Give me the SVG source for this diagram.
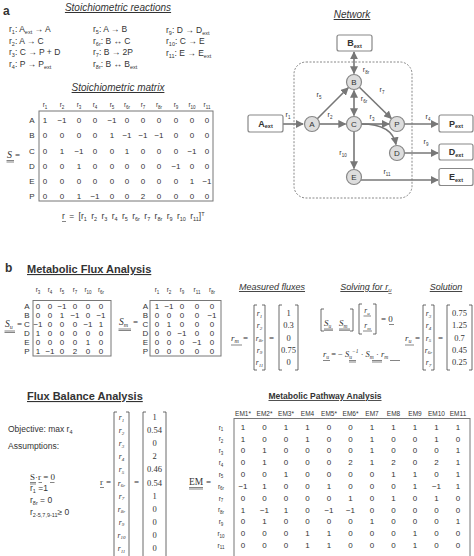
<svg xmlns="http://www.w3.org/2000/svg" width="474" height="556" viewBox="0 0 474 556">
<defs>
<style>
text{font-family:"Liberation Sans",Arial,sans-serif;fill:#333}
.s{font-size:8.5px}
.ttl{font-size:10px;font-style:italic;text-decoration:underline}
.ttl9{font-size:9px;font-style:italic;text-decoration:underline;text-anchor:middle}
.h{font-size:11px;font-weight:bold;text-decoration:underline}
.lt{font-size:12px;font-weight:bold}
.sb{font-size:5.5px}
.sb4{font-size:4.5px}
.m{font-size:8px;text-anchor:middle}
.mh{font-size:6.5px;text-anchor:middle}
.box{fill:none;stroke:#777;stroke-width:1}
.e{fill:none;stroke:#777;stroke-width:1.6}
.nd{fill:#ddd;stroke:#888;stroke-width:1.2}
.ext{fill:#fff;stroke:#888;stroke-width:1.2}
.nl{font-size:8px;text-anchor:middle}
.xl{font-size:9px;font-weight:bold;text-anchor:middle}
.el{font-size:7px;text-anchor:middle}
.sf{font-family:"Liberation Serif","Times New Roman",serif}
.it{font-style:italic}
.br{fill:none;stroke:#444;stroke-width:0.8}
.ul{stroke:#333;stroke-width:0.6}
.v{font-family:"Liberation Serif","Times New Roman",serif;font-size:8.5px;text-anchor:middle}
.vi{font-family:"Liberation Serif","Times New Roman",serif;font-style:italic;font-size:7.5px;text-anchor:middle}
</style>
<marker id="ah" viewBox="0 0 10 10" refX="9" refY="5" markerWidth="5" markerHeight="5" orient="auto-start-reverse"><path d="M0,0 L10,5 L0,10 z" fill="#777"/></marker>
</defs>
<rect width="474" height="556" fill="#fff"/>

<!-- ===== Part a: reactions ===== -->
<g id="reactions">
<text x="3" y="15" class="lt">a</text>
<text x="118" y="11" class="ttl" text-anchor="middle">Stoichiometric reactions</text>
<text x="9" y="32" class="s">r<tspan class="sb" dy="2">1</tspan><tspan dy="-2">: A</tspan><tspan class="sb" dy="2">ext</tspan><tspan dy="-2"> → A</tspan></text>
<text x="9" y="43.5" class="s">r<tspan class="sb" dy="2">2</tspan><tspan dy="-2">: A → C</tspan></text>
<text x="9" y="55" class="s">r<tspan class="sb" dy="2">3</tspan><tspan dy="-2">: C → P + D</tspan></text>
<text x="9" y="66.5" class="s">r<tspan class="sb" dy="2">4</tspan><tspan dy="-2">: P → P</tspan><tspan class="sb" dy="2">ext</tspan></text>
<text x="93" y="32" class="s">r<tspan class="sb" dy="2">5</tspan><tspan dy="-2">:  A → B</tspan></text>
<text x="93" y="43.5" class="s">r<tspan class="sb" dy="2">6r</tspan><tspan dy="-2">: B ↔ C</tspan></text>
<text x="93" y="55" class="s">r<tspan class="sb" dy="2">7</tspan><tspan dy="-2">:  B → 2P</tspan></text>
<text x="93" y="66.5" class="s">r<tspan class="sb" dy="2">8r</tspan><tspan dy="-2">: B ↔ B</tspan><tspan class="sb" dy="2">ext</tspan></text>
<text x="166" y="33" class="s">r<tspan class="sb" dy="2">9</tspan><tspan dy="-2">:  D → D</tspan><tspan class="sb" dy="2">ext</tspan></text>
<text x="166" y="44" class="s">r<tspan class="sb" dy="2">10</tspan><tspan dy="-2">: C → E</tspan></text>
<text x="166" y="55.5" class="s">r<tspan class="sb" dy="2">11</tspan><tspan dy="-2">: E → E</tspan><tspan class="sb" dy="2">ext</tspan></text>
</g>

<!-- ===== Part a: stoichiometric matrix ===== -->
<g id="stoich-matrix">
<text x="118" y="91" class="ttl" text-anchor="middle">Stoichiometric matrix</text>
<text class="mh"><tspan x="45" y="107">r</tspan><tspan class="sb4" dy="1.5">1</tspan><tspan x="62" y="107">r</tspan><tspan class="sb4" dy="1.5">2</tspan><tspan x="79" y="107">r</tspan><tspan class="sb4" dy="1.5">3</tspan><tspan x="95" y="107">r</tspan><tspan class="sb4" dy="1.5">4</tspan><tspan x="112" y="107">r</tspan><tspan class="sb4" dy="1.5">5</tspan><tspan x="127" y="107">r</tspan><tspan class="sb4" dy="1.5">6r</tspan><tspan x="143" y="107">r</tspan><tspan class="sb4" dy="1.5">7</tspan><tspan x="159" y="107">r</tspan><tspan class="sb4" dy="1.5">8r</tspan><tspan x="176" y="107">r</tspan><tspan class="sb4" dy="1.5">9</tspan><tspan x="192" y="107">r</tspan><tspan class="sb4" dy="1.5">10</tspan><tspan x="207" y="107">r</tspan><tspan class="sb4" dy="1.5">11</tspan></text>
<rect x="39" y="111" width="174" height="90" class="box"/>
<text class="m" x="32" y="123">A</text>
<text class="m" x="32" y="138">B</text>
<text class="m" x="32" y="153.5">C</text>
<text class="m" x="32" y="169">D</text>
<text class="m" x="32" y="184">E</text>
<text class="m" x="32" y="199">P</text>
<text class="m" y="123"><tspan x="45">1</tspan><tspan x="62">−1</tspan><tspan x="79">0</tspan><tspan x="95">0</tspan><tspan x="112">−1</tspan><tspan x="127">0</tspan><tspan x="143">0</tspan><tspan x="159">0</tspan><tspan x="176">0</tspan><tspan x="192">0</tspan><tspan x="207">0</tspan></text>
<text class="m" y="138"><tspan x="45">0</tspan><tspan x="62">0</tspan><tspan x="79">0</tspan><tspan x="95">0</tspan><tspan x="112">1</tspan><tspan x="127">−1</tspan><tspan x="143">−1</tspan><tspan x="159">−1</tspan><tspan x="176">0</tspan><tspan x="192">0</tspan><tspan x="207">0</tspan></text>
<text class="m" y="153.5"><tspan x="45">0</tspan><tspan x="62">1</tspan><tspan x="79">−1</tspan><tspan x="95">0</tspan><tspan x="112">0</tspan><tspan x="127">1</tspan><tspan x="143">0</tspan><tspan x="159">0</tspan><tspan x="176">0</tspan><tspan x="192">−1</tspan><tspan x="207">0</tspan></text>
<text class="m" y="169"><tspan x="45">0</tspan><tspan x="62">0</tspan><tspan x="79">1</tspan><tspan x="95">0</tspan><tspan x="112">0</tspan><tspan x="127">0</tspan><tspan x="143">0</tspan><tspan x="159">0</tspan><tspan x="176">−1</tspan><tspan x="192">0</tspan><tspan x="207">0</tspan></text>
<text class="m" y="184"><tspan x="45">0</tspan><tspan x="62">0</tspan><tspan x="79">0</tspan><tspan x="95">0</tspan><tspan x="112">0</tspan><tspan x="127">0</tspan><tspan x="143">0</tspan><tspan x="159">0</tspan><tspan x="176">0</tspan><tspan x="192">1</tspan><tspan x="207">−1</tspan></text>
<text class="m" y="199"><tspan x="45">0</tspan><tspan x="62">0</tspan><tspan x="79">1</tspan><tspan x="95">−1</tspan><tspan x="112">0</tspan><tspan x="127">0</tspan><tspan x="143">2</tspan><tspan x="159">0</tspan><tspan x="176">0</tspan><tspan x="192">0</tspan><tspan x="207">0</tspan></text>
<text x="7" y="158" class="sf it" font-size="10">S</text>
<line x1="6.5" y1="160.5" x2="14" y2="160.5" class="ul"/>
<line x1="6.5" y1="162" x2="14" y2="162" class="ul"/>
<text x="15" y="158" class="sf" font-size="9">=</text>
<text x="62" y="219" font-size="8.5" word-spacing="2">r = [r<tspan class="sb" dy="1.5">1</tspan><tspan dy="-1.5"> r</tspan><tspan class="sb" dy="1.5">2</tspan><tspan dy="-1.5"> r</tspan><tspan class="sb" dy="1.5">3</tspan><tspan dy="-1.5"> r</tspan><tspan class="sb" dy="1.5">4</tspan><tspan dy="-1.5"> r</tspan><tspan class="sb" dy="1.5">5</tspan><tspan dy="-1.5"> r</tspan><tspan class="sb" dy="1.5">6r</tspan><tspan dy="-1.5"> r</tspan><tspan class="sb" dy="1.5">7</tspan><tspan dy="-1.5"> r</tspan><tspan class="sb" dy="1.5">8r</tspan><tspan dy="-1.5"> r</tspan><tspan class="sb" dy="1.5">9</tspan><tspan dy="-1.5"> r</tspan><tspan class="sb" dy="1.5">10</tspan><tspan dy="-1.5"> r</tspan><tspan class="sb" dy="1.5">11</tspan><tspan dy="-1.5">]</tspan><tspan class="sb" dy="-3">T</tspan></text>
<line x1="62" y1="221.5" x2="66" y2="221.5" class="ul"/>
</g>

<!-- ===== Part a: network ===== -->
<g id="network-title">
<text x="352" y="18" class="ttl" text-anchor="middle">Network</text>
<rect x="294" y="62" width="118" height="136" rx="12" fill="none" stroke="#888" stroke-width="1" stroke-dasharray="2,1.5"/>
</g>
<g id="connectors">
<path class="e" d="M283,124 H303" marker-end="url(#ah)"/>
<path class="e" d="M319.5,124 H345.5" marker-end="url(#ah)"/>
<path class="e" d="M317.3,118.7 L348.2,87.8" marker-end="url(#ah)"/>
<path class="e" d="M359.4,87.2 L391.3,118.5" marker-end="url(#ah)"/>
<path class="e" d="M361.5,124 H389" marker-end="url(#ah)"/>
<path class="e" d="M361.5,124 Q392,124 396,144.5" marker-end="url(#ah)"/>
<path class="e" d="M354,90.5 V115.5" marker-start="url(#ah)" marker-end="url(#ah)"/>
<path class="e" d="M354,52 V73.5" marker-start="url(#ah)" marker-end="url(#ah)"/>
<path class="e" d="M354,131.5 V168.5" marker-end="url(#ah)"/>
<path class="e" d="M404.5,124 H438" marker-end="url(#ah)"/>
<path class="e" d="M404.5,153 H438" marker-end="url(#ah)"/>
<path class="e" d="M360.8,180 H438" marker-end="url(#ah)"/>
<text class="el" x="288" y="117">r<tspan class="sb4" dy="1.5">1</tspan></text>
<text class="el" x="319" y="97">r<tspan class="sb4" dy="1.5">5</tspan></text>
<text class="el" x="330" y="117">r<tspan class="sb4" dy="1.5">2</tspan></text>
<text class="el" x="366" y="72">r<tspan class="sb4" dy="1.5">8r</tspan></text>
<text class="el" x="382" y="92">r<tspan class="sb4" dy="1.5">7</tspan></text>
<text class="el" x="364" y="101">r<tspan class="sb4" dy="1.5">6r</tspan></text>
<text class="el" x="372" y="119">r<tspan class="sb4" dy="1.5">3</tspan></text>
<text class="el" x="428" y="119">r<tspan class="sb4" dy="1.5">4</tspan></text>
<text class="el" x="426" y="144">r<tspan class="sb4" dy="1.5">9</tspan></text>
<text class="el" x="343" y="155">r<tspan class="sb4" dy="1.5">10</tspan></text>
<text class="el" x="387" y="174">r<tspan class="sb4" dy="1.5">11</tspan></text>
</g>
<g id="node-Aext"><rect x="248" y="115" width="35" height="17" rx="2" class="ext"/><text class="xl" x="265.5" y="126.5">A<tspan class="sb" dy="1.5">ext</tspan></text></g>
<g id="node-Bext"><rect x="337" y="35" width="35" height="16" rx="2" class="ext"/><text class="xl" x="354.5" y="46">B<tspan class="sb" dy="1.5">ext</tspan></text></g>
<g id="node-Pext"><rect x="439" y="115" width="34" height="17" rx="2" class="ext"/><text class="xl" x="456" y="126.5">P<tspan class="sb" dy="1.5">ext</tspan></text></g>
<g id="node-Dext"><rect x="439" y="144" width="34" height="16" rx="2" class="ext"/><text class="xl" x="456" y="155">D<tspan class="sb" dy="1.5">ext</tspan></text></g>
<g id="node-Eext"><rect x="439" y="168.5" width="34" height="17" rx="2" class="ext"/><text class="xl" x="456" y="180">E<tspan class="sb" dy="1.5">ext</tspan></text></g>
<g id="node-A"><circle cx="312" cy="124" r="7.5" class="nd"/><text class="nl" x="312" y="127">A</text></g>
<g id="node-B"><circle cx="354" cy="82" r="7.5" class="nd"/><text class="nl" x="354" y="85">B</text></g>
<g id="node-C"><circle cx="354" cy="124" r="7.5" class="nd"/><text class="nl" x="354" y="127">C</text></g>
<g id="node-P"><circle cx="397" cy="124" r="7.5" class="nd"/><text class="nl" x="397" y="127">P</text></g>
<g id="node-D"><circle cx="397" cy="153" r="7.5" class="nd"/><text class="nl" x="397" y="156">D</text></g>
<g id="node-E"><circle cx="354" cy="177" r="7.5" class="nd"/><text class="nl" x="354" y="180">E</text></g>

<!-- ===== Part b: MFA ===== -->
<g id="mfa">
<text x="5" y="272" class="lt">b</text>
<text x="27" y="273" class="h">Metabolic Flux Analysis</text>
<!-- Su -->
<text x="5" y="327" class="sf it" font-size="9.5">S<tspan font-size="6" dy="2">u</tspan></text>
<line x1="4.5" y1="331" x2="15" y2="331" class="ul"/>
<line x1="4.5" y1="332.5" x2="15" y2="332.5" class="ul"/>
<text x="17" y="327" class="sf" font-size="9">=</text>
<text class="mh"><tspan x="38" y="292">r</tspan><tspan class="sb4" dy="1.5">3</tspan><tspan x="50" y="292">r</tspan><tspan class="sb4" dy="1.5">4</tspan><tspan x="62" y="292">r</tspan><tspan class="sb4" dy="1.5">5</tspan><tspan x="75" y="292">r</tspan><tspan class="sb4" dy="1.5">7</tspan><tspan x="88" y="292">r</tspan><tspan class="sb4" dy="1.5">10</tspan><tspan x="101" y="292">r</tspan><tspan class="sb4" dy="1.5">6r</tspan></text>
<rect x="33" y="300.5" width="78" height="55.5" class="box"/>
<text class="m" font-size="9"><tspan x="27" y="309">A</tspan><tspan x="27" y="318">B</tspan><tspan x="27" y="327">C</tspan><tspan x="27" y="336">D</tspan><tspan x="27" y="345">E</tspan><tspan x="27" y="354">P</tspan></text>
<text class="m" y="309"><tspan x="38">0</tspan><tspan x="50">0</tspan><tspan x="62">−1</tspan><tspan x="75">0</tspan><tspan x="88">0</tspan><tspan x="101">0</tspan></text>
<text class="m" y="318"><tspan x="38">0</tspan><tspan x="50">0</tspan><tspan x="62">1</tspan><tspan x="75">−1</tspan><tspan x="88">0</tspan><tspan x="101">−1</tspan></text>
<text class="m" y="327"><tspan x="38">−1</tspan><tspan x="50">0</tspan><tspan x="62">0</tspan><tspan x="75">0</tspan><tspan x="88">−1</tspan><tspan x="101">1</tspan></text>
<text class="m" y="336"><tspan x="38">1</tspan><tspan x="50">0</tspan><tspan x="62">0</tspan><tspan x="75">0</tspan><tspan x="88">0</tspan><tspan x="101">0</tspan></text>
<text class="m" y="345"><tspan x="38">0</tspan><tspan x="50">0</tspan><tspan x="62">0</tspan><tspan x="75">0</tspan><tspan x="88">1</tspan><tspan x="101">0</tspan></text>
<text class="m" y="354"><tspan x="38">1</tspan><tspan x="50">−1</tspan><tspan x="62">0</tspan><tspan x="75">2</tspan><tspan x="88">0</tspan><tspan x="101">0</tspan></text>
<!-- Sm -->
<text x="119" y="325" class="sf it" font-size="9.5">S<tspan font-size="6" dy="2">m</tspan></text>
<line x1="118.5" y1="329" x2="131" y2="329" class="ul"/>
<line x1="118.5" y1="330.5" x2="131" y2="330.5" class="ul"/>
<text x="133" y="325" class="sf" font-size="9">=</text>
<text class="mh"><tspan x="157" y="292">r</tspan><tspan class="sb4" dy="1.5">1</tspan><tspan x="169" y="292">r</tspan><tspan class="sb4" dy="1.5">2</tspan><tspan x="182" y="292">r</tspan><tspan class="sb4" dy="1.5">9</tspan><tspan x="197" y="292">r</tspan><tspan class="sb4" dy="1.5">11</tspan><tspan x="212" y="292">r</tspan><tspan class="sb4" dy="1.5">8r</tspan></text>
<rect x="150" y="300.5" width="71" height="55.5" class="box"/>
<text class="m" font-size="9"><tspan x="145.5" y="309">A</tspan><tspan x="145.5" y="318">B</tspan><tspan x="145.5" y="327">C</tspan><tspan x="145.5" y="336">D</tspan><tspan x="145.5" y="345">E</tspan><tspan x="145.5" y="354">P</tspan></text>
<text class="m" y="309"><tspan x="157">1</tspan><tspan x="169">−1</tspan><tspan x="182">0</tspan><tspan x="197">0</tspan><tspan x="212">0</tspan></text>
<text class="m" y="318"><tspan x="157">0</tspan><tspan x="169">0</tspan><tspan x="182">0</tspan><tspan x="197">0</tspan><tspan x="212">−1</tspan></text>
<text class="m" y="327"><tspan x="157">0</tspan><tspan x="169">1</tspan><tspan x="182">0</tspan><tspan x="197">0</tspan><tspan x="212">0</tspan></text>
<text class="m" y="336"><tspan x="157">0</tspan><tspan x="169">0</tspan><tspan x="182">−1</tspan><tspan x="197">0</tspan><tspan x="212">0</tspan></text>
<text class="m" y="345"><tspan x="157">0</tspan><tspan x="169">0</tspan><tspan x="182">0</tspan><tspan x="197">−1</tspan><tspan x="212">0</tspan></text>
<text class="m" y="354"><tspan x="157">0</tspan><tspan x="169">0</tspan><tspan x="182">0</tspan><tspan x="197">0</tspan><tspan x="212">0</tspan></text>
</g>

<!-- Measured fluxes -->
<g id="measured">
<text x="272" y="290" class="ttl9">Measured fluxes</text>
<text x="231" y="341" class="sf it" font-size="9">r<tspan font-size="6" dy="2">m</tspan></text>
<line x1="231" y1="345" x2="242" y2="345" class="ul"/>
<text x="243" y="341" class="sf" font-size="9">=</text>
<path class="br" d="M257,305 H254 V370 H257 M262,305 H265 V370 H262"/>
<text class="vi" x="259.5" y="316">r<tspan font-size="5" dy="1.5">1</tspan></text>
<text class="vi" x="259.5" y="328.3">r<tspan font-size="5" dy="1.5">2</tspan></text>
<text class="vi" x="259.5" y="340.6">r<tspan font-size="5" dy="1.5">8r</tspan></text>
<text class="vi" x="259.5" y="352.9">r<tspan font-size="5" dy="1.5">9</tspan></text>
<text class="vi" x="259.5" y="365.2">r<tspan font-size="5" dy="1.5">11</tspan></text>
<text x="269" y="341" class="sf" font-size="9">=</text>
<path class="br" d="M282,305 H279 V370 H282 M295,305 H298 V370 H295"/>
<text class="v" x="288.5" y="316">1</text>
<text class="v" x="288.5" y="328.3">0.3</text>
<text class="v" x="288.5" y="340.6">0</text>
<text class="v" x="288.5" y="352.9">0.75</text>
<text class="v" x="288.5" y="365.2">0</text>
</g>

<!-- Solving for r_u -->
<g id="solving">
<text x="366" y="290" class="ttl9">Solving for r<tspan font-size="6" dy="2">u</tspan></text>
<path class="br" d="M324,309 H321 V331 H324 M350,309 H353 V331 H350"/>
<text x="324" y="326" class="sf it" font-size="9">S<tspan font-size="5.5" dy="2">u</tspan></text>
<line x1="324" y1="329" x2="333" y2="329" class="ul"/>
<line x1="324" y1="330.3" x2="333" y2="330.3" class="ul"/>
<text x="339" y="326" class="sf it" font-size="9">S<tspan font-size="5.5" dy="2">m</tspan></text>
<line x1="339" y1="329" x2="350" y2="329" class="ul"/>
<line x1="339" y1="330.3" x2="350" y2="330.3" class="ul"/>
<path class="br" d="M362,304 H359 V334 H362 M373,304 H376 V334 H373"/>
<text class="vi" x="367" y="313">r<tspan font-size="5" dy="1.5">u</tspan></text>
<line x1="363.5" y1="316" x2="371" y2="316" class="ul"/>
<text class="vi" x="367.5" y="328">r<tspan font-size="5" dy="1.5">m</tspan></text>
<line x1="363" y1="331" x2="372" y2="331" class="ul"/>
<text x="381" y="322" class="sf" font-size="9">= 0</text>
<line x1="389" y1="324.5" x2="394" y2="324.5" class="ul"/>
<text x="323" y="357" class="sf it" font-size="8.5">r<tspan font-size="5.5" dy="2">u</tspan><tspan dy="-2" font-style="normal"> = − </tspan><tspan>S</tspan><tspan font-size="5.5" dy="2">u</tspan><tspan font-size="5.5" dy="-6">−1</tspan><tspan dy="4" font-style="normal"> · </tspan><tspan>S</tspan><tspan font-size="5.5" dy="2">m</tspan><tspan dy="-2" font-style="normal"> · </tspan><tspan>r</tspan><tspan font-size="5.5" dy="2">m</tspan></text>
<line x1="323" y1="360.5" x2="330" y2="360.5" class="ul"/>
<line x1="349" y1="360.5" x2="356" y2="360.5" class="ul"/>
<line x1="349" y1="362" x2="356" y2="362" class="ul"/>
<line x1="372" y1="360.5" x2="382" y2="360.5" class="ul"/>
<line x1="372" y1="362" x2="382" y2="362" class="ul"/>
<line x1="390" y1="360.5" x2="400" y2="360.5" class="ul"/>
</g>

<!-- Solution -->
<g id="solution">
<text x="446" y="290" class="ttl9">Solution</text>
<text x="405" y="341" class="sf it" font-size="9">r<tspan font-size="6" dy="2">u</tspan></text>
<line x1="405" y1="345" x2="414" y2="345" class="ul"/>
<text x="415" y="341" class="sf" font-size="9">=</text>
<path class="br" d="M426,305 H423 V370 H426 M431,305 H434 V370 H431"/>
<text class="vi" x="428.5" y="316">r<tspan font-size="5" dy="1.5">3</tspan></text>
<text class="vi" x="428.5" y="328.3">r<tspan font-size="5" dy="1.5">4</tspan></text>
<text class="vi" x="428.5" y="340.6">r<tspan font-size="5" dy="1.5">5</tspan></text>
<text class="vi" x="428.5" y="352.9">r<tspan font-size="5" dy="1.5">6r</tspan></text>
<text class="vi" x="428.5" y="365.2">r<tspan font-size="5" dy="1.5">7</tspan></text>
<text x="438" y="341" class="sf" font-size="9">=</text>
<path class="br" d="M450,305 H447 V370 H450 M469,305 H472 V370 H469"/>
<text class="v" x="459.5" y="316">0.75</text>
<text class="v" x="459.5" y="328.3">1.25</text>
<text class="v" x="459.5" y="340.6">0.7</text>
<text class="v" x="459.5" y="352.9">0.45</text>
<text class="v" x="459.5" y="365.2">0.25</text>
</g>

<!-- ===== FBA ===== -->
<g id="fba">
<text x="27" y="400" class="h">Flux Balance Analysis</text>
<text x="8" y="432" class="s">Objective: max r<tspan class="sb" dy="2">4</tspan></text>
<text x="8" y="449" class="s">Assumptions:</text>
<text x="30" y="480" class="sf" font-size="9">S·r = 0</text>
<line x1="30" y1="482.5" x2="36" y2="482.5" class="ul"/>
<line x1="30" y1="484" x2="36" y2="484" class="ul"/>
<line x1="38.5" y1="482.5" x2="42" y2="482.5" class="ul"/>
<line x1="50" y1="482.5" x2="54.5" y2="482.5" class="ul"/>
<text x="30" y="491" class="s">r<tspan class="sb" dy="2">1</tspan><tspan dy="-2"> =1</tspan></text>
<text x="30" y="503" class="s">r<tspan class="sb" dy="2">8r</tspan><tspan dy="-2"> = 0</tspan></text>
<text x="30" y="515" class="s">r<tspan class="sb" dy="2">2-5,7,9-11</tspan><tspan dy="-2">≥ 0</tspan></text>
<text x="100" y="485" class="sf" font-size="9">r</text>
<line x1="100" y1="487.5" x2="104" y2="487.5" class="ul"/>
<text x="106" y="485" class="sf" font-size="9">=</text>
<path class="br" d="M117,412 H114 V558 H117 M126,412 H129 V558 H126"/>
<text class="vi" x="121.5" y="420">r<tspan font-size="5" dy="1.5">1</tspan></text>
<text class="vi" x="121.5" y="433.1">r<tspan font-size="5" dy="1.5">2</tspan></text>
<text class="vi" x="121.5" y="446.2">r<tspan font-size="5" dy="1.5">3</tspan></text>
<text class="vi" x="121.5" y="459.3">r<tspan font-size="5" dy="1.5">4</tspan></text>
<text class="vi" x="121.5" y="472.4">r<tspan font-size="5" dy="1.5">5</tspan></text>
<text class="vi" x="121.5" y="485.5">r<tspan font-size="5" dy="1.5">6r</tspan></text>
<text class="vi" x="121.5" y="498.6">r<tspan font-size="5" dy="1.5">7</tspan></text>
<text class="vi" x="121.5" y="511.7">r<tspan font-size="5" dy="1.5">8r</tspan></text>
<text class="vi" x="121.5" y="524.8">r<tspan font-size="5" dy="1.5">9</tspan></text>
<text class="vi" x="121.5" y="537.9">r<tspan font-size="5" dy="1.5">10</tspan></text>
<text class="vi" x="121.5" y="551">r<tspan font-size="5" dy="1.5">11</tspan></text>
<text x="134" y="485" class="sf" font-size="9">=</text>
<path class="br" d="M146,412 H143 V558 H146 M163,412 H166 V558 H163"/>
<text class="v" x="154.5" y="420">1</text>
<text class="v" x="154.5" y="433.1">0.54</text>
<text class="v" x="154.5" y="446.2">0</text>
<text class="v" x="154.5" y="459.3">2</text>
<text class="v" x="154.5" y="472.4">0.46</text>
<text class="v" x="154.5" y="485.5">0.54</text>
<text class="v" x="154.5" y="498.6">1</text>
<text class="v" x="154.5" y="511.7">0</text>
<text class="v" x="154.5" y="524.8">0</text>
<text class="v" x="154.5" y="537.9">0</text>
<text class="v" x="154.5" y="551">0</text>
</g>

<!-- ===== Metabolic Pathway Analysis ===== -->
<g id="mpa">
<text x="325" y="399" font-size="8.5" font-weight="bold" text-anchor="middle" text-decoration="underline">Metabolic Pathway Analysis</text>
<text x="189" y="485" class="sf" font-size="9.5">EM</text>
<line x1="189" y1="487.5" x2="203" y2="487.5" class="ul"/>
<line x1="189" y1="489" x2="203" y2="489" class="ul"/>
<text x="206" y="485" class="sf" font-size="9">=</text>
<text class="mh" font-size="7" y="416"><tspan x="243">EM1*</tspan><tspan x="264.5">EM2*</tspan><tspan x="286">EM3*</tspan><tspan x="307.5">EM4</tspan><tspan x="329">EM5*</tspan><tspan x="350.5">EM6*</tspan><tspan x="372">EM7</tspan><tspan x="393.5">EM8</tspan><tspan x="415">EM9</tspan><tspan x="436.5">EM10</tspan><tspan x="458">EM11</tspan></text>
<rect x="234" y="418.5" width="236" height="140" class="box"/>
<text class="mh" font-size="7"><tspan x="221" y="429.5">r</tspan><tspan class="sb4" dy="1.5">1</tspan><tspan x="221" y="441.3">r</tspan><tspan class="sb4" dy="1.5">2</tspan><tspan x="221" y="453.1">r</tspan><tspan class="sb4" dy="1.5">3</tspan><tspan x="221" y="465">r</tspan><tspan class="sb4" dy="1.5">4</tspan><tspan x="221" y="476.8">r</tspan><tspan class="sb4" dy="1.5">5</tspan><tspan x="221" y="488.6">r</tspan><tspan class="sb4" dy="1.5">6r</tspan><tspan x="221" y="500.5">r</tspan><tspan class="sb4" dy="1.5">7</tspan><tspan x="221" y="512.3">r</tspan><tspan class="sb4" dy="1.5">8r</tspan><tspan x="221" y="524.1">r</tspan><tspan class="sb4" dy="1.5">9</tspan><tspan x="221" y="536">r</tspan><tspan class="sb4" dy="1.5">10</tspan><tspan x="221" y="547.8">r</tspan><tspan class="sb4" dy="1.5">11</tspan></text>
<text class="m" y="429.7"><tspan x="243">1</tspan><tspan x="264.5">0</tspan><tspan x="286">1</tspan><tspan x="307.5">1</tspan><tspan x="329">0</tspan><tspan x="350.5">0</tspan><tspan x="372">1</tspan><tspan x="393.5">1</tspan><tspan x="415">1</tspan><tspan x="436.5">1</tspan><tspan x="458">1</tspan></text>
<text class="m" y="441.5"><tspan x="243">1</tspan><tspan x="264.5">0</tspan><tspan x="286">0</tspan><tspan x="307.5">1</tspan><tspan x="329">0</tspan><tspan x="350.5">0</tspan><tspan x="372">1</tspan><tspan x="393.5">0</tspan><tspan x="415">0</tspan><tspan x="436.5">1</tspan><tspan x="458">0</tspan></text>
<text class="m" y="453.4"><tspan x="243">0</tspan><tspan x="264.5">1</tspan><tspan x="286">0</tspan><tspan x="307.5">0</tspan><tspan x="329">0</tspan><tspan x="350.5">0</tspan><tspan x="372">1</tspan><tspan x="393.5">0</tspan><tspan x="415">0</tspan><tspan x="436.5">0</tspan><tspan x="458">1</tspan></text>
<text class="m" y="465.2"><tspan x="243">0</tspan><tspan x="264.5">1</tspan><tspan x="286">0</tspan><tspan x="307.5">0</tspan><tspan x="329">0</tspan><tspan x="350.5">2</tspan><tspan x="372">1</tspan><tspan x="393.5">2</tspan><tspan x="415">0</tspan><tspan x="436.5">2</tspan><tspan x="458">1</tspan></text>
<text class="m" y="477"><tspan x="243">0</tspan><tspan x="264.5">0</tspan><tspan x="286">1</tspan><tspan x="307.5">0</tspan><tspan x="329">0</tspan><tspan x="350.5">0</tspan><tspan x="372">0</tspan><tspan x="393.5">1</tspan><tspan x="415">1</tspan><tspan x="436.5">0</tspan><tspan x="458">1</tspan></text>
<text class="m" y="488.9"><tspan x="243">−1</tspan><tspan x="264.5">1</tspan><tspan x="286">0</tspan><tspan x="307.5">0</tspan><tspan x="329">1</tspan><tspan x="350.5">0</tspan><tspan x="372">0</tspan><tspan x="393.5">0</tspan><tspan x="415">1</tspan><tspan x="436.5">−1</tspan><tspan x="458">1</tspan></text>
<text class="m" y="500.7"><tspan x="243">0</tspan><tspan x="264.5">0</tspan><tspan x="286">0</tspan><tspan x="307.5">0</tspan><tspan x="329">0</tspan><tspan x="350.5">1</tspan><tspan x="372">0</tspan><tspan x="393.5">1</tspan><tspan x="415">0</tspan><tspan x="436.5">1</tspan><tspan x="458">0</tspan></text>
<text class="m" y="512.5"><tspan x="243">1</tspan><tspan x="264.5">−1</tspan><tspan x="286">1</tspan><tspan x="307.5">0</tspan><tspan x="329">−1</tspan><tspan x="350.5">−1</tspan><tspan x="372">0</tspan><tspan x="393.5">0</tspan><tspan x="415">0</tspan><tspan x="436.5">0</tspan><tspan x="458">0</tspan></text>
<text class="m" y="524.4"><tspan x="243">0</tspan><tspan x="264.5">1</tspan><tspan x="286">0</tspan><tspan x="307.5">0</tspan><tspan x="329">0</tspan><tspan x="350.5">0</tspan><tspan x="372">1</tspan><tspan x="393.5">0</tspan><tspan x="415">0</tspan><tspan x="436.5">0</tspan><tspan x="458">1</tspan></text>
<text class="m" y="536.2"><tspan x="243">0</tspan><tspan x="264.5">0</tspan><tspan x="286">0</tspan><tspan x="307.5">1</tspan><tspan x="329">1</tspan><tspan x="350.5">0</tspan><tspan x="372">0</tspan><tspan x="393.5">0</tspan><tspan x="415">1</tspan><tspan x="436.5">0</tspan><tspan x="458">0</tspan></text>
<text class="m" y="548"><tspan x="243">0</tspan><tspan x="264.5">0</tspan><tspan x="286">0</tspan><tspan x="307.5">1</tspan><tspan x="329">1</tspan><tspan x="350.5">0</tspan><tspan x="372">0</tspan><tspan x="393.5">0</tspan><tspan x="415">1</tspan><tspan x="436.5">0</tspan><tspan x="458">0</tspan></text>
</g>
</svg>
